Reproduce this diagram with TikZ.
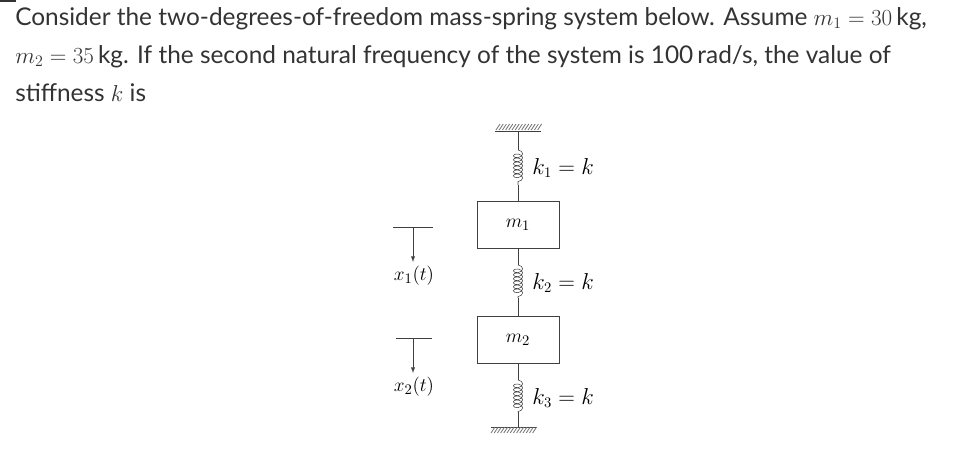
\documentclass[tikz,border=0pt]{standalone}
\usepackage{fontspec}
\setmainfont{Lato}
\usetikzlibrary{decorations.pathmorphing}
\begin{document}
\begin{tikzpicture}[x=0.75pt,y=-0.75pt,
  txt/.style={anchor=base west,inner sep=0,font=\fontsize{18.3}{21}\selectfont,text=black!80},
  lbl/.style={anchor=west,inner sep=0,font=\fontsize{16}{18}\selectfont},
  mass/.style={draw=black!75,minimum width=61.5pt,minimum height=35pt,inner sep=0,font=\fontsize{15}{17}\selectfont},
  coilline/.style={draw=black!75,decorate,decoration={coil,aspect=0.6,segment length=3pt,amplitude=3.5pt,pre length=0pt,post length=0pt}},
  wire/.style={draw=black!75,line width=0.5pt},
  hatch/.style={draw=black!55,line width=0.6pt}]
\useasboundingbox (0,0) rectangle (964,468);
\fill[black!80] (0,0) rectangle (16,1.5);
\node[txt] (l1) at (15,25) {Consider the two-degrees-of-freedom mass-spring system below. Assume $m_1 = 30$\,kg,};
\node[txt] (l2) at (15,63) {$m_2 = 35$\,kg. If the second natural frequency of the system is 100\,rad/s, the value of};
\node[txt] (l3) at (15,101) {stiffness $k$ is};
% grounds
\coordinate (gt) at (518,131);
\draw[wire] (495,131) -- (541,131);
\foreach \i in {0,...,13} \draw[hatch] (496+3.2*\i,130) -- (500+3.2*\i,124);
\draw[wire] (491,427) -- (537,427);
\foreach \i in {0,...,13} \draw[hatch] (491+3.2*\i,433) -- (495+3.2*\i,427);
% masses
\node[mass] (m1) at (518,225) {$m_1$};
\node[mass] (m2) at (518,340) {$m_2$};
% springs
\coordinate (s1a) at (518,150); \coordinate (s1b) at (518,185);
\coordinate (s2a) at (518,265); \coordinate (s2b) at (518,298);
\coordinate (s3a) at (518,380); \coordinate (s3b) at (518,412);
\draw[wire] (gt) -- (s1a); \draw[coilline] (s1a) -- (s1b); \draw[wire] (s1b) -- (m1.north);
\draw[wire] (m1.south) -- (s2a); \draw[coilline] (s2a) -- (s2b); \draw[wire] (s2b) -- (m2.north);
\draw[wire] (m2.south) -- (s3a); \draw[coilline] (s3a) -- (s3b); \draw[wire] (s3b) -- (518,427);
\node[lbl] (k1) at (532,168) {$k_1 = k$};
\node[lbl] (k2) at (532,283) {$k_2 = k$};
\node[lbl] (k3) at (532,398) {$k_3 = k$};
% displacement arrows
\coordinate (b1l) at (393,227); \coordinate (b1r) at (433,227); \coordinate (b1m) at (413,227);
\coordinate (a1) at (413,262);
\draw[wire] (b1l) -- (b1r); \draw[wire,-latex] (b1m) -- (a1);
\node[font=\fontsize{15}{17}\selectfont] (x1) at (414,276) {$x_1(t)$};
\coordinate (b2l) at (396,338); \coordinate (b2r) at (432,338); \coordinate (b2m) at (413,338);
\coordinate (a2) at (413,373);
\draw[wire] (b2l) -- (b2r); \draw[wire,-latex] (b2m) -- (a2);
\node[font=\fontsize{15}{17}\selectfont] (x2) at (414,387) {$x_2(t)$};
\end{tikzpicture}
\end{document}
